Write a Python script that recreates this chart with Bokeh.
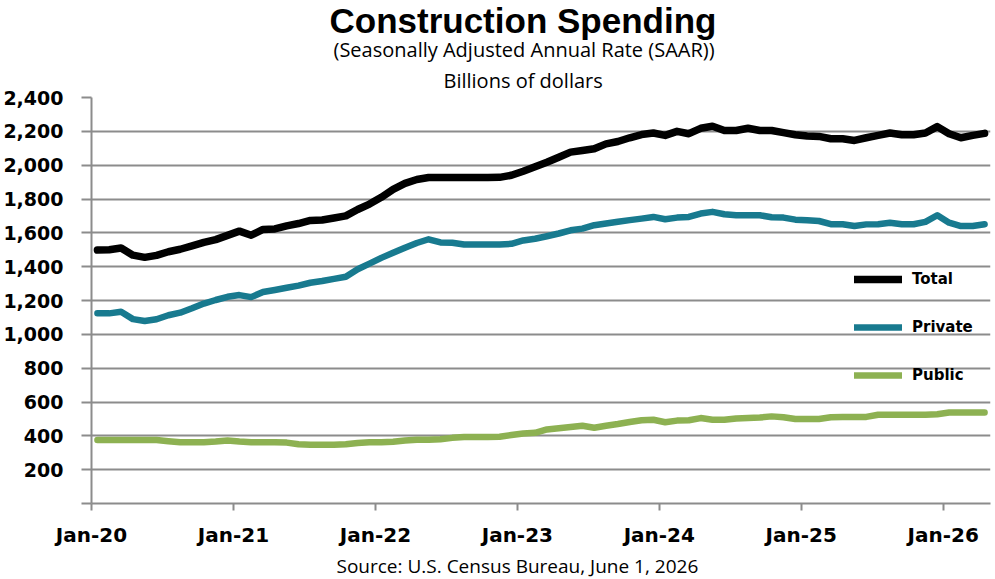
import numpy as np
import pandas as pd
from bokeh.plotting import figure
from bokeh.models import (Range1d, FixedTicker, NumeralTickFormatter, Title,
                          Legend, LegendItem)
from bokeh.embed import file_html
from bokeh.resources import INLINE

# Monthly construction spending, SAAR, billions of dollars (Jan 2020 - Apr 2026)
months = pd.date_range("2020-01-01", periods=76, freq="MS")

total = [
    1498, 1500, 1510, 1468, 1455, 1467, 1488, 1503, 1523, 1543, 1560, 1585,
    1610, 1586, 1620, 1623, 1641, 1655, 1673, 1676, 1688, 1700, 1738, 1770,
    1810, 1857, 1892, 1915, 1927, 1927, 1927, 1927, 1927, 1927, 1928, 1940,
    1964, 1990, 2017, 2047, 2077, 2087, 2097, 2126, 2140, 2162, 2181, 2190,
    2176, 2200, 2186, 2218, 2230, 2205, 2205, 2218, 2205, 2205, 2192, 2180,
    2172, 2170, 2156, 2156, 2146, 2162, 2176, 2190, 2180, 2180, 2190, 2228,
    2186, 2162, 2176, 2188,
]
private = [
    1124, 1124, 1133, 1090, 1079, 1089, 1113, 1128, 1154, 1182, 1203, 1222,
    1232, 1220, 1250, 1262, 1275, 1288, 1305, 1315, 1328, 1340, 1385, 1418,
    1452, 1482, 1512, 1540, 1562, 1543, 1541, 1531, 1531, 1531, 1531, 1535,
    1555, 1565, 1580, 1596, 1615, 1625, 1645, 1655, 1665, 1675, 1684, 1694,
    1680, 1690, 1694, 1714, 1724, 1710, 1704, 1704, 1704, 1692, 1690, 1678,
    1675, 1670, 1651, 1651, 1640, 1650, 1651, 1660, 1651, 1651, 1665, 1704,
    1660, 1640, 1640, 1651,
]
public = [
    375, 375, 375, 375, 375, 375, 368, 362, 362, 362, 366, 372,
    366, 362, 362, 362, 360, 350, 348, 348, 348, 350, 358, 362,
    362, 365, 372, 377, 377, 380, 388, 393, 393, 393, 395, 405,
    414, 418, 438, 445, 452, 460, 448, 460, 470, 482, 492, 495,
    480, 490, 492, 505, 495, 495, 503, 505, 508, 515, 510, 500,
    500, 500, 510, 511, 511, 512, 525, 525, 525, 525, 525, 528,
    538, 538, 538, 538,
]

year_ticks = [0, 12, 24, 36, 48, 60, 72]
year_labels = ["Jan-20", "Jan-21", "Jan-22", "Jan-23", "Jan-24", "Jan-25", "Jan-26"]
y_ticks = list(range(0, 2401, 200))

# each month is plotted in the middle of its slot on the month axis
x = np.arange(len(months)) + 0.5

p = figure(width=995, height=579, output_backend="svg", toolbar_location=None,
           x_range=Range1d(0, len(months)), y_range=Range1d(0, 2400),
           min_border_left=90, min_border_right=5, min_border_top=97,
           min_border_bottom=75)
p.outline_line_color = None
p.background_fill_color = "white"
p.border_fill_color = "white"

axis_grey = "#8C8C8C"

# x axis
p.xaxis.ticker = FixedTicker(ticks=year_ticks)
p.xaxis.major_label_overrides = {t: l for t, l in zip(year_ticks, year_labels)}
p.xaxis.minor_tick_line_color = None
p.xaxis.major_tick_in = 0
p.xaxis.major_tick_out = 7
p.xaxis.axis_line_color = axis_grey
p.xaxis.axis_line_width = 2
p.xaxis.major_tick_line_color = axis_grey
p.xaxis.major_tick_line_width = 2
p.xaxis.major_label_text_font = "DejaVu Sans"
p.xaxis.major_label_text_font_style = "bold"
p.xaxis.major_label_text_font_size = "20px"
p.xaxis.major_label_text_color = "black"
p.xaxis.major_label_standoff = 12

# y axis
p.yaxis.ticker = FixedTicker(ticks=y_ticks)
p.yaxis.formatter = NumeralTickFormatter(format="0,0")
p.yaxis.major_label_overrides = {0: ""}
p.yaxis.minor_tick_line_color = None
p.yaxis.major_tick_in = 0
p.yaxis.major_tick_out = 10
p.yaxis.axis_line_color = axis_grey
p.yaxis.axis_line_width = 2
p.yaxis.major_tick_line_color = axis_grey
p.yaxis.major_tick_line_width = 2
p.yaxis.major_label_text_font = "DejaVu Sans"
p.yaxis.major_label_text_font_style = "bold"
p.yaxis.major_label_text_font_size = "19px"
p.yaxis.major_label_text_color = "black"
p.yaxis.major_label_standoff = 18

p.xgrid.grid_line_color = None
p.ygrid.grid_line_color = axis_grey
p.ygrid.grid_line_width = 2

r_total = p.line(x, total, line_color="black", line_width=7.5,
                 line_join="round", line_cap="round")
r_private = p.line(x, private, line_color="#187A8F", line_width=6.5,
                   line_join="round", line_cap="round")
r_public = p.line(x, public, line_color="#8DB152", line_width=6.5,
                  line_join="round", line_cap="round")

legend = Legend(items=[LegendItem(label="Total", renderers=[r_total]),
                       LegendItem(label="Private", renderers=[r_private]),
                       LegendItem(label="Public", renderers=[r_public])],
                location=(763, 118), orientation="vertical",
                glyph_width=48, glyph_height=20, label_height=20,
                spacing=28, label_standoff=10, padding=0, margin=0,
                border_line_color=None, background_fill_alpha=0,
                label_text_font="DejaVu Sans", label_text_font_style="bold",
                label_text_font_size="15px", label_text_color="black")
p.add_layout(legend)

# headings stacked above the frame (innermost first), source note below
headings = [
    ("Billions of dollars", "Open Sans", "normal", "20px", 7.7, 352),
    ("(Seasonally Adjusted Annual Rate (SAAR))", "Open Sans", "normal", "20px", -5.5, 242),
    ("Construction  Spending", "Liberation Sans", "bold", "35px", -6.5, 238),
]
for txt, font, style, size, standoff, off in headings:
    p.add_layout(Title(text=txt, align="left", offset=off, standoff=standoff,
                       text_font=font, text_font_style=style,
                       text_font_size=size, text_color="black"), "above")

p.add_layout(Title(text="Source: U.S. Census Bureau, June 1, 2026", align="left",
                   offset=245, standoff=2, text_font="Open Sans",
                   text_font_style="normal", text_font_size="19px",
                   text_color="black"), "below")

open("out.html", "w").write(file_html(p, INLINE))
